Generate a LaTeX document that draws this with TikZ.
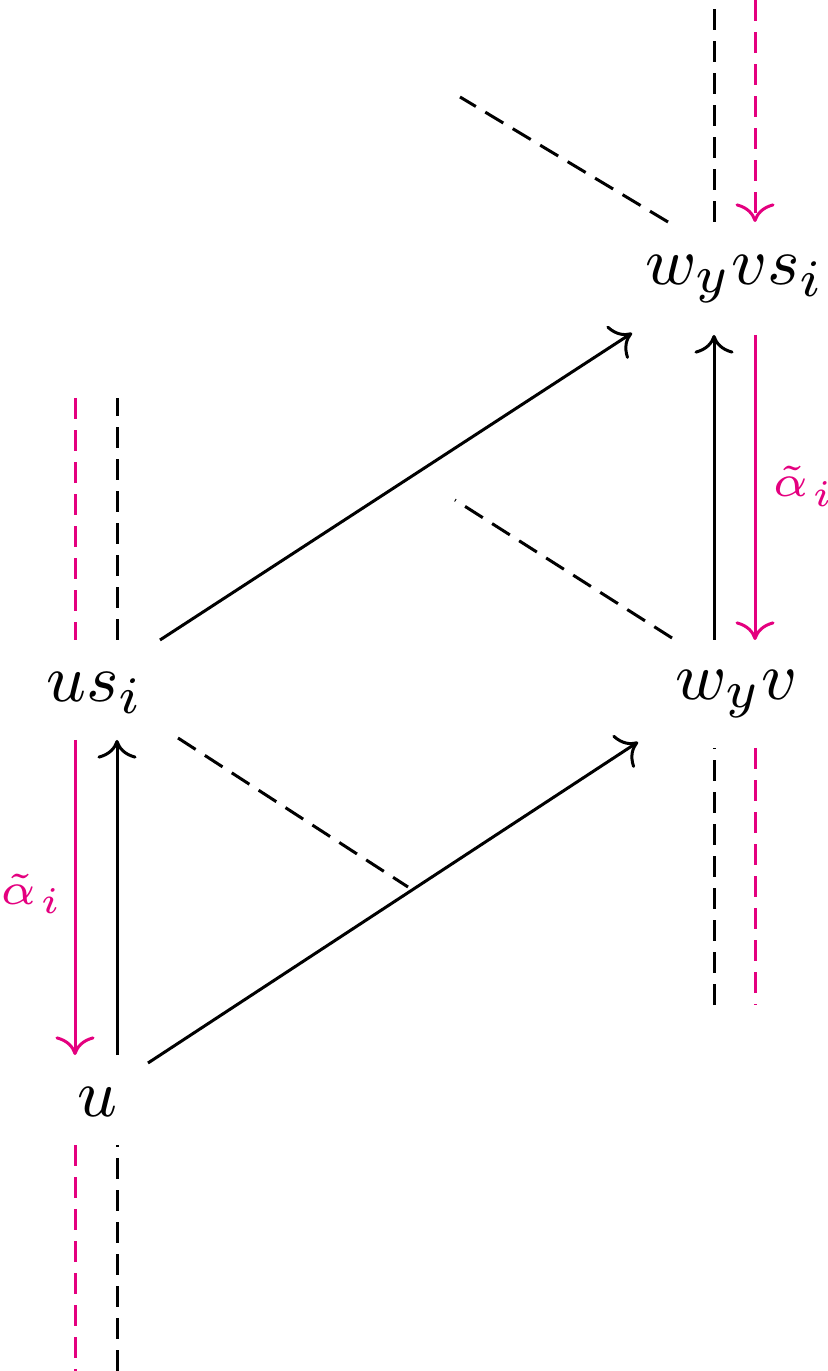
\documentclass[tikz,border=0pt]{standalone}
\usetikzlibrary{cd,calc}
\definecolor{mag}{RGB}{228,0,127}
\begin{document}
\begin{tikzpicture}[x=0.1333pt,y=-0.1333pt,line width=0.4pt,>={cm to},
  lbl/.style={inner sep=0pt,anchor=base west,font=\fontsize{9.4}{11}\selectfont},
  albl/.style={inner sep=0pt,anchor=base west,text=mag,font=\fontsize{8.4}{10}\selectfont},
  dsh/.style={dash pattern=on 2.8pt off 1.47pt},
  pk/.style={draw=mag,text=mag}]
\useasboundingbox (0,0) rectangle (827,1371);
\node[lbl] (u) at (76,1116) {$u$};
\node[lbl] (usi) at (45,702) {$us_i$};
\node[lbl] (wyv) at (674,700) {$w_yv$};
\node[lbl] (wyvsi) at (644,285) {$w_yvs_i$};
\node[albl] (la1) at (-1,904) {$\scriptstyle\tilde\alpha_{\mkern1mu i}$};
\node[albl] (la2) at (771,497) {$\scriptstyle\tilde\alpha_{\mkern1mu i}$};
\coordinate (ub1) at (75,1371);
\coordinate (ub2) at (117,1371);
\coordinate (ut1) at (75,398);
\coordinate (ut2) at (117,398);
\coordinate (vb1) at (714,1005);
\coordinate (vb2) at (755,1005);
\coordinate (vt1) at (714,0);
\coordinate (vt2) at (755,0);
\coordinate (d1) at (408,887);
\coordinate (d2) at (455,500);
\coordinate (d3) at (460,97);
% solid arrows
\draw[->] ($(u.base west)+(41,-61)$) -- ($(usi.base west)+(72,38)$);
\draw[->,pk] ($(usi.base west)+(30,38)$) -- ($(u.base west)+(-1,-61)$);
\draw[->] ($(wyv.base west)+(40,-60)$) -- ($(wyvsi.base west)+(70,50)$);
\draw[->,pk] ($(wyvsi.base west)+(111,50)$) -- ($(wyv.base west)+(81,-60)$);
\draw[->] ($(usi.base west)+(115,-62)$) -- ($(wyvsi.base west)+(-12,48)$);
\draw[->] ($(u.base west)+(72,-53)$) -- ($(wyv.base west)+(-36,42)$);
% dashed
\draw[dsh] ($(usi.base west)+(133,36)$) -- (d1);
\draw[dsh] ($(wyv.base west)+(-2,-62)$) -- (d2);
\draw[dsh] ($(wyvsi.base west)+(24,-63)$) -- (d3);
\draw[dsh] ($(wyvsi.base west)+(70,-63)$) -- (vt1);
\draw[dsh,pk,->] (vt2) -- ($(wyvsi.base west)+(111,-63)$);
\draw[dsh] ($(usi.base west)+(72,-62)$) -- (ut2);
\draw[dsh,pk] (ut1) -- ($(usi.base west)+(30,-62)$);
\draw[dsh] (vb1) -- ($(wyv.base west)+(40,48)$);
\draw[dsh,pk] ($(wyv.base west)+(81,48)$) -- (vb2);
\draw[dsh,pk] ($(u.base west)+(-1,29)$) -- (ub1);
\draw[dsh] (ub2) -- ($(u.base west)+(41,29)$);
\end{tikzpicture}
\end{document}
